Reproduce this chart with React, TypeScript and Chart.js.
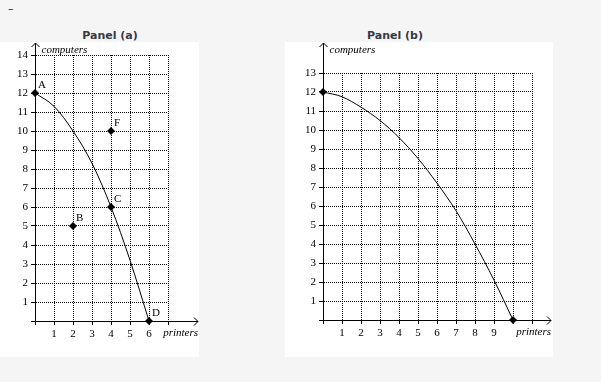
import React, { useEffect, useRef } from 'react';
import { Chart, registerables } from 'chart.js';

Chart.register(...registerables);

// ---------- data ----------
const titleA = 'Panel (a)';
const titleB = 'Panel (b)';
const yAxisTitle = 'computers';
const xAxisTitle = 'printers';

const curveAX = [0, 1, 2, 3, 4, 5, 6];
const curveAY = [12, 11.3, 10, 8.3, 6, 3.2, 0];
const pointLabelsA = ['A', 'B', 'C', 'D', 'F'];
const pointAX = [0, 2, 4, 6, 4];
const pointAY = [12, 5, 6, 0, 10];

const curveBX = [0, 1, 2, 3, 4, 5, 6, 7, 8, 9, 10];
const curveBY = [12, 11.75, 11.2, 10.5, 9.6, 8.5, 7.2, 5.75, 4.0, 2.1, 0];
const pointLabelsB = ['', ''];
const pointBX = [0, 10];
const pointBY = [12, 0];

const xMaxA = 7;
const yMaxA = 14;
const xLabelMaxA = 6;
const xMaxB = 11;
const yMaxB = 13;
const xLabelMaxB = 9;

// ---------- helpers ----------
const alignPx = (p: number) => Math.round(p - 0.5) + 0.5;

const axisDecor = {
  id: 'axisDecor',
  afterDraw(chart: any, _args: any, opts: any) {
    const { ctx, chartArea } = chart;
    const { left, right, top, bottom } = chartArea;
    const bx = alignPx(left);
    const by = alignPx(bottom);
    const xEnd = right + opts.xExt;
    const yEnd = top - opts.yExt;
    ctx.save();
    ctx.strokeStyle = '#000';
    ctx.lineWidth = 1;
    ctx.setLineDash([]);
    ctx.beginPath();
    ctx.moveTo(right, by);
    ctx.lineTo(xEnd, by);
    ctx.moveTo(xEnd - 4, by - 4);
    ctx.lineTo(xEnd, by);
    ctx.lineTo(xEnd - 4, by + 4);
    ctx.moveTo(bx, top);
    ctx.lineTo(bx, yEnd);
    ctx.moveTo(bx - 4, yEnd + 4);
    ctx.lineTo(bx, yEnd);
    ctx.lineTo(bx + 4, yEnd + 4);
    ctx.stroke();
    ctx.fillStyle = '#000';
    ctx.font = 'italic 11px "Liberation Serif"';
    ctx.textAlign = 'left';
    ctx.textBaseline = 'alphabetic';
    ctx.fillText(opts.yTitle, bx + 6, opts.yTitleY);
    ctx.textAlign = 'right';
    ctx.textBaseline = 'top';
    ctx.fillText(opts.xTitle, xEnd, by + 6);
    ctx.restore();
  },
};

const pointLabeler = {
  id: 'pointLabeler',
  afterDatasetsDraw(chart: any, _args: any, opts: any) {
    const { ctx } = chart;
    const meta = chart.getDatasetMeta(1);
    const labels: string[] = opts.labels || [];
    ctx.save();
    ctx.fillStyle = '#000';
    ctx.font = '11px "Liberation Serif"';
    ctx.textAlign = 'left';
    ctx.textBaseline = 'alphabetic';
    meta.data.forEach((el: any, i: number) => {
      if (labels[i]) ctx.fillText(labels[i], el.x + 3, el.y - 5);
    });
    ctx.restore();
  },
};

function makeConfig(p: any) {
  const tickFont = { family: 'Liberation Serif', size: 11 };
  return {
    type: 'scatter' as const,
    data: {
      datasets: [
        {
          data: p.cx.map((x: number, i: number) => ({ x, y: p.cy[i] })),
          showLine: true,
          borderColor: '#000',
          borderWidth: 1,
          pointRadius: 0,
          cubicInterpolationMode: 'monotone',
          clip: false,
        },
        {
          data: p.px.map((x: number, i: number) => ({ x, y: p.py[i] })),
          showLine: false,
          pointStyle: 'rectRot',
          pointRadius: 4,
          backgroundColor: '#000',
          borderColor: '#000',
          borderWidth: 0,
          clip: false,
        },
      ],
    },
    options: {
      responsive: false,
      animation: false,
      events: [],
      layout: { padding: { left: 0, right: p.padRight, top: p.padTop, bottom: 0 } },
      plugins: {
        legend: { display: false },
        tooltip: { enabled: false },
        title: { display: false },
        axisDecor: { xExt: p.xExt, yExt: p.yExt, yTitle: yAxisTitle, xTitle: xAxisTitle, yTitleY: 53 },
        pointLabeler: { labels: p.labels },
      },
      scales: {
        x: {
          type: 'linear',
          min: 0,
          max: p.xMax,
          afterFit: (s: any) => { s.height = p.xAxisHeight; },
          ticks: {
            stepSize: 1,
            color: '#000',
            font: tickFont,
            padding: 3,
            maxRotation: 0,
            autoSkip: false,
            callback: (v: any) => (v >= 1 && v <= p.xLabelMax ? String(v) : ''),
          },
          grid: { color: '#000', lineWidth: 1, tickLength: 4, tickColor: '#000', tickWidth: 1 },
          border: { display: true, color: '#000', width: 1, dash: [1, 1] },
        },
        y: {
          type: 'linear',
          min: 0,
          max: p.yMax,
          afterFit: (s: any) => { s.width = p.yAxisWidth; },
          ticks: {
            stepSize: 1,
            color: '#000',
            font: tickFont,
            padding: 3,
            autoSkip: false,
            callback: (v: any) => (v >= 1 ? String(v) : ''),
          },
          grid: { color: '#000', lineWidth: 1, tickLength: 4, tickColor: '#000', tickWidth: 1 },
          border: { display: true, color: '#000', width: 1, dash: [1, 1] },
        },
      },
    },
    plugins: [axisDecor, pointLabeler],
  };
}

function Panel(props: any) {
  const ref = useRef<HTMLCanvasElement | null>(null);
  useEffect(() => {
    if (!ref.current) return;
    const chart = new Chart(ref.current, makeConfig(props.cfg) as any);
    return () => chart.destroy();
  }, []);
  return (
    <div style={{ position: 'absolute', left: props.left, top: 0, width: props.width, height: 360 }}>
      <canvas ref={ref} width={props.width} height={360} style={{ display: 'block' }} />
    </div>
  );
}

const titleStyle: React.CSSProperties = {
  position: 'absolute',
  top: 28,
  width: 160,
  height: 15,
  lineHeight: '15px',
  textAlign: 'center',
  fontFamily: '"DejaVu Sans"',
  fontWeight: 'bold',
  fontSize: 11,
  color: '#383844',
  whiteSpace: 'nowrap',
};

export default function App() {
  const cfgA = {
    cx: curveAX, cy: curveAY, px: pointAX, py: pointAY, labels: pointLabelsA,
    xMax: xMaxA, yMax: yMaxA, xLabelMax: xLabelMaxA,
    padRight: 57, padTop: 55, xAxisHeight: 39, yAxisWidth: 35, xExt: 30, yExt: 12,
  };
  const cfgB = {
    cx: curveBX, cy: curveBY, px: pointBX, py: pointBY, labels: pointLabelsB,
    xMax: xMaxB, yMax: yMaxB, xLabelMax: xLabelMaxB,
    padRight: 28, padTop: 73, xAxisHeight: 40, yAxisWidth: 93, xExt: 19, yExt: 30,
  };
  return (
    <div style={{ position: 'fixed', left: 0, top: 0, width: 601, height: 382, background: '#f5f5f5', overflow: 'hidden' }}>
      <div style={{ position: 'absolute', left: 0, top: 42, width: 199, height: 315, background: '#fff' }} />
      <div style={{ position: 'absolute', left: 285, top: 42, width: 268, height: 315, background: '#fff' }} />
      <span style={{ position: 'absolute', left: 8, top: 2, fontSize: 11, fontFamily: 'DejaVu Sans', color: '#222' }}>–</span>
      <div style={{ ...titleStyle, left: 110 - 80 }}>{titleA}</div>
      <div style={{ ...titleStyle, left: 395 - 80 }}>{titleB}</div>
      <Panel left={0} width={225} cfg={cfgA} />
      <Panel left={230} width={330} cfg={cfgB} />
    </div>
  );
}
